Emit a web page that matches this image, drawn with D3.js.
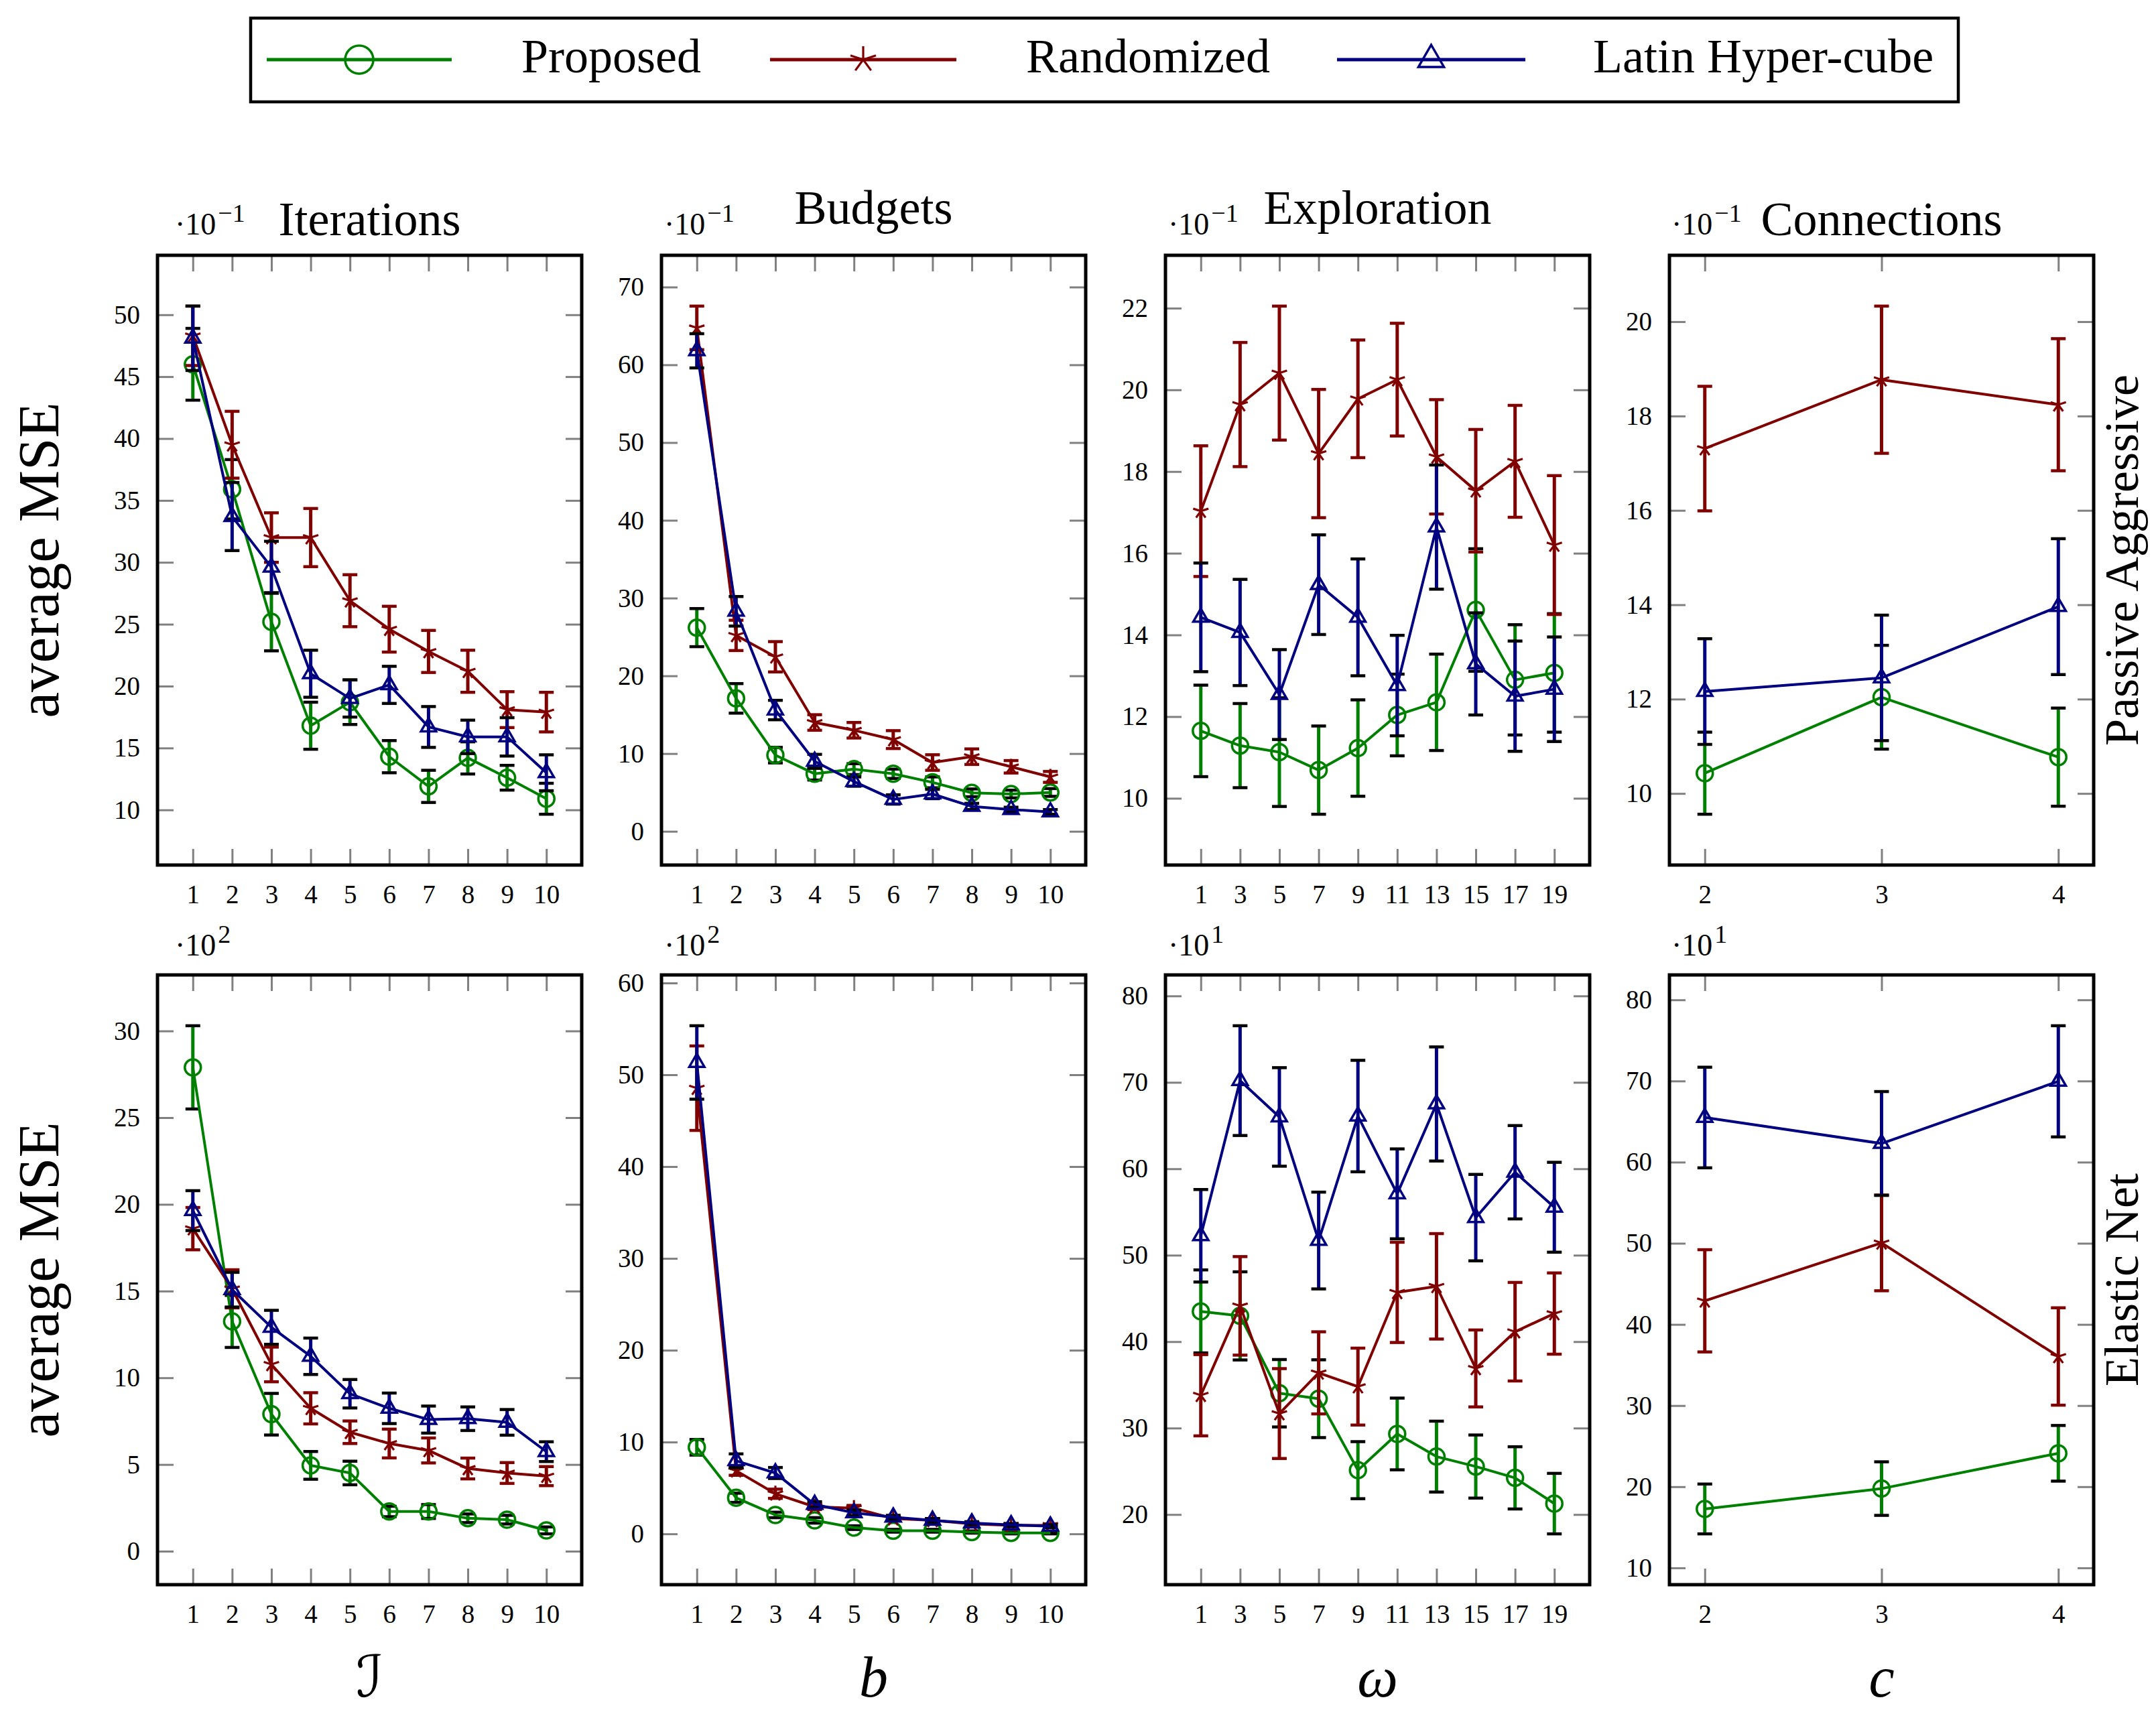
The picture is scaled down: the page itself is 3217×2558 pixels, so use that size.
<!DOCTYPE html>
<html>
<head>
<meta charset="utf-8">
<script src="https://cdn.jsdelivr.net/npm/d3@7"></script>
<style>
  body { margin: 0; background: #fff; }
  text { font-family: "Liberation Serif", "DejaVu Serif", serif; fill: #000; }
</style>
</head>
<body>
<div id="chart"></div>
<script>
// ---- data ----
var seriesNames = ["Proposed", "Randomized", "Latin Hyper-cube"];
var titles = ["Iterations", "Budgets", "Exploration", "Connections"];
var rowNames = ["Passive Aggressive", "Elastic Net"];
var paramSymbols = ["\u2110", "b", "\u03c9", "c"];
var rowExponents = [["\u22121", "\u22121", "\u22121", "\u22121"], ["2", "2", "1", "1"]];

var xIter = [1, 2, 3, 4, 5, 6, 7, 8, 9, 10];
var xBudget = [1, 2, 3, 4, 5, 6, 7, 8, 9, 10];
var xExplore = [1, 3, 5, 7, 9, 11, 13, 15, 17, 19];
var xConn = [2, 3, 4];

var yTicksPA = [[10, 15, 20, 25, 30, 35, 40, 45, 50], [0, 10, 20, 30, 40, 50, 60, 70],
                [10, 12, 14, 16, 18, 20, 22], [10, 12, 14, 16, 18, 20]];
var yTicksEN = [[0, 5, 10, 15, 20, 25, 30], [0, 10, 20, 30, 40, 50, 60],
                [20, 30, 40, 50, 60, 70, 80], [10, 20, 30, 40, 50, 60, 70, 80]];

// Passive Aggressive, rows: Proposed, Randomized, Latin Hyper-cube
var paIterMean = [[46.0, 35.9, 25.2, 16.8, 18.7, 14.3, 11.9, 14.2, 12.6, 10.9],
                  [48.3, 39.5, 32.0, 32.0, 26.9, 24.6, 22.8, 21.2, 18.1, 17.9],
                  [48.1, 33.7, 29.6, 21.0, 19.0, 20.1, 16.7, 15.9, 15.9, 13.0]];
var paIterErr = [[2.9, 2.4, 2.35, 1.9, 1.8, 1.3, 1.3, 1.3, 1.0, 1.25],
                 [2.4, 2.7, 2.0, 2.35, 2.1, 1.85, 1.7, 1.7, 1.45, 1.6],
                 [2.6, 2.75, 2.1, 1.9, 1.5, 1.5, 1.65, 1.35, 1.55, 1.45]];
var paBudgetMean = [[26.2, 17.1, 9.8, 7.4, 8.0, 7.4, 6.3, 4.95, 4.8, 5.0],
                    [64.75, 25.2, 22.45, 14.0, 13.0, 11.8, 8.85, 9.6, 8.3, 7.0],
                    [61.8, 28.3, 15.6, 9.0, 6.4, 4.1, 4.8, 3.2, 2.8, 2.5]];
var paBudgetErr = [[2.45, 1.9, 1.0, 0.8, 0.7, 0.6, 0.7, 0.5, 0.5, 0.5],
                   [2.8, 1.95, 1.95, 1.0, 1.0, 1.15, 1.0, 1.0, 0.8, 0.7],
                   [2.2, 1.9, 1.25, 0.9, 0.6, 0.6, 0.6, 0.4, 0.3, 0.3]];
var paExploreMean = [[11.65, 11.29, 11.13, 10.69, 11.23, 12.04, 12.35, 14.61, 12.9, 13.07],
                     [17.03, 19.64, 20.41, 18.44, 19.78, 20.25, 18.36, 17.53, 18.25, 16.2],
                     [14.43, 14.06, 12.54, 15.23, 14.43, 12.76, 16.64, 13.29, 12.5, 12.67]];
var paExploreErr = [[1.12, 1.03, 1.33, 1.08, 1.18, 1.0, 1.18, 1.5, 1.35, 1.45],
                    [1.6, 1.52, 1.64, 1.57, 1.44, 1.38, 1.4, 1.5, 1.37, 1.7],
                    [1.33, 1.3, 1.1, 1.22, 1.43, 1.23, 1.52, 1.25, 1.35, 1.28]];
var paConnMean = [[10.43, 12.04, 10.77], [17.31, 18.77, 18.24], [12.16, 12.45, 13.96]];
var paConnErr = [[0.87, 1.1, 1.04], [1.32, 1.56, 1.4], [1.12, 1.33, 1.44]];

// Elastic Net
var enIterMean = [[27.9, 13.25, 7.9, 4.95, 4.51, 2.29, 2.29, 1.9, 1.82, 1.2],
                  [18.6, 15.13, 10.77, 8.24, 6.86, 6.21, 5.81, 4.77, 4.51, 4.33],
                  [19.64, 15.08, 12.91, 11.24, 9.08, 8.24, 7.59, 7.64, 7.43, 5.74]];
var enIterErr = [[2.4, 1.5, 1.2, 0.8, 0.68, 0.3, 0.4, 0.25, 0.25, 0.2],
                 [1.22, 1.1, 1.0, 0.9, 0.65, 0.83, 0.72, 0.6, 0.6, 0.55],
                 [1.15, 1.0, 0.98, 1.05, 0.82, 0.88, 0.78, 0.68, 0.74, 0.57]];
var enBudgetMean = [[9.43, 3.93, 2.06, 1.47, 0.68, 0.34, 0.34, 0.2, 0.1, 0.1],
                    [48.54, 6.88, 4.37, 2.95, 2.8, 1.67, 1.47, 1.08, 0.93, 0.93],
                    [51.34, 7.96, 6.63, 3.2, 2.3, 1.82, 1.47, 1.18, 0.98, 0.84]];
var enBudgetErr = [[0.85, 0.5, 0.3, 0.3, 0.2, 0.15, 0.15, 0.12, 0.1, 0.1],
                   [4.6, 0.5, 0.5, 0.3, 0.3, 0.2, 0.2, 0.15, 0.15, 0.15],
                   [4.0, 0.75, 0.6, 0.3, 0.3, 0.2, 0.2, 0.15, 0.15, 0.15]];
var enExploreMean = [[43.5, 42.98, 34.03, 33.4, 25.13, 29.32, 26.7, 25.55, 24.24, 21.26],
                     [33.8, 44.14, 31.68, 36.39, 34.8, 45.7, 46.4, 36.9, 41.15, 43.25],
                     [52.25, 70.2, 66.0, 51.7, 66.1, 57.1, 67.5, 54.35, 59.6, 55.55]];
var enExploreErr = [[4.8, 5.1, 3.9, 4.5, 3.3, 4.15, 4.1, 3.65, 3.6, 3.5],
                    [4.7, 5.7, 5.2, 4.75, 4.45, 5.8, 6.1, 4.45, 5.7, 4.7],
                    [5.35, 6.35, 5.7, 5.6, 6.45, 5.2, 6.6, 5.0, 5.4, 5.2]];
var enConnMean = [[17.26, 19.77, 24.12], [42.91, 50.05, 36.05], [65.5, 62.3, 69.96]];
var enConnErr = [[3.07, 3.3, 3.43], [6.3, 5.9, 6.0], [6.2, 6.4, 6.85]];

// ---- layout / style ----
var W = 3217, H = 2558;
var colLeft = [235, 987, 1739, 2491], panelW = 633;
var rowTop = [381, 1455], panelH = 910;
var colors = ["#008000", "#800000", "#000080"];
var capColors = ["#000", "#800000", "#000"];
var markers = ["circle", "star", "triangle"];
var titleBase = [351, 334, 334, 351];
var scaleLabelDx = [26, 4, 4, 3];
var scaleLabelBase = [350, 1426];

var panels = [
  {row: 0, col: 0, x: xIter, mean: paIterMean, err: paIterErr, ticks: yTicksPA[0]},
  {row: 0, col: 1, x: xBudget, mean: paBudgetMean, err: paBudgetErr, ticks: yTicksPA[1]},
  {row: 0, col: 2, x: xExplore, mean: paExploreMean, err: paExploreErr, ticks: yTicksPA[2]},
  {row: 0, col: 3, x: xConn, mean: paConnMean, err: paConnErr, ticks: yTicksPA[3]},
  {row: 1, col: 0, x: xIter, mean: enIterMean, err: enIterErr, ticks: yTicksEN[0]},
  {row: 1, col: 1, x: xBudget, mean: enBudgetMean, err: enBudgetErr, ticks: yTicksEN[1]},
  {row: 1, col: 2, x: xExplore, mean: enExploreMean, err: enExploreErr, ticks: yTicksEN[2]},
  {row: 1, col: 3, x: xConn, mean: enConnMean, err: enConnErr, ticks: yTicksEN[3]}
];

var svg = d3.select("#chart").append("svg")
    .attr("width", W).attr("height", H)
    .style("background", "#fff");

function markerPath(type, r) {
  if (type === "triangle") {
    return "M0," + (-r) + "L" + (0.866 * r) + "," + (0.5 * r) + "L" + (-0.866 * r) + "," + (0.5 * r) + "Z";
  }
  // star: five spokes from the centre
  var p = "";
  for (var k = 0; k < 5; k++) {
    var a = (90 + k * 72) * Math.PI / 180;
    p += "M0,0L" + (r * Math.cos(a)).toFixed(2) + "," + (-r * Math.sin(a)).toFixed(2);
  }
  return p;
}

function drawMarker(sel, type, r, color) {
  if (type === "circle") {
    sel.append("circle").attr("r", r).attr("fill", "none")
       .attr("stroke", color).attr("stroke-width", 3.5);
  } else {
    sel.append("path").attr("d", markerPath(type, r))
       .attr("fill", "none").attr("stroke", color)
       .attr("stroke-width", type === "star" ? 3.2 : 3.5)
       .attr("stroke-linejoin", "miter");
  }
}

panels.forEach(function(p) {
  var left = colLeft[p.col], top = rowTop[p.row];
  var g = svg.append("g").attr("transform", "translate(" + left + "," + top + ")");

  // pgfplots-like enlarged limits: 10% of the data range on each side
  var xr = d3.extent(p.x), xpad = (xr[1] - xr[0]) * 0.1;
  var lo = d3.min(p.mean, function(s, i) { return d3.min(s, function(v, j) { return v - p.err[i][j]; }); });
  var hi = d3.max(p.mean, function(s, i) { return d3.max(s, function(v, j) { return v + p.err[i][j]; }); });
  var ypad = (hi - lo) * 0.1;

  var x = d3.scaleLinear().domain([xr[0] - xpad, xr[1] + xpad]).range([0, panelW]);
  var y = d3.scaleLinear().domain([lo - ypad, hi + ypad]).range([panelH, 0]);

  // axes (ticks inside on all four sides)
  var tickLen = 24;
  var axB = g.append("g").attr("transform", "translate(0," + panelH + ")")
      .call(d3.axisBottom(x).tickValues(p.x).tickSize(-tickLen).tickPadding(29).tickFormat(d3.format("d")));
  var axT = g.append("g")
      .call(d3.axisTop(x).tickValues(p.x).tickSize(-tickLen).tickFormat(""));
  var axL = g.append("g")
      .call(d3.axisLeft(y).tickValues(p.ticks).tickSize(-tickLen).tickPadding(26).tickFormat(d3.format("d")));
  var axR = g.append("g").attr("transform", "translate(" + panelW + ",0)")
      .call(d3.axisRight(y).tickValues(p.ticks).tickSize(-tickLen).tickFormat(""));
  [axB, axT, axL, axR].forEach(function(a) {
    a.select(".domain").remove();
    a.selectAll(".tick line").attr("stroke", "#808080").attr("stroke-width", 3);
    a.selectAll(".tick text").style("font-family", "'Liberation Serif', serif")
      .style("font-size", "39px").attr("fill", "#000");
  });

  // series
  p.mean.forEach(function(vals, si) {
    var pts = vals.map(function(v, j) { return {x: p.x[j], v: v, e: p.err[si][j]}; });
    var sg = g.append("g");

    var eb = sg.selectAll(".eb").data(pts).enter().append("g");
    eb.append("line")
      .attr("x1", function(d) { return x(d.x); }).attr("x2", function(d) { return x(d.x); })
      .attr("y1", function(d) { return y(d.v - d.e); }).attr("y2", function(d) { return y(d.v + d.e); })
      .attr("stroke", colors[si]).attr("stroke-width", 5);
    [-1, 1].forEach(function(sgn) {
      eb.append("line")
        .attr("x1", function(d) { return x(d.x) - 11; }).attr("x2", function(d) { return x(d.x) + 11; })
        .attr("y1", function(d) { return y(d.v + sgn * d.e); }).attr("y2", function(d) { return y(d.v + sgn * d.e); })
        .attr("stroke", capColors[si]).attr("stroke-width", 4.5);
    });

    sg.append("path").datum(pts)
      .attr("fill", "none").attr("stroke", colors[si]).attr("stroke-width", 4)
      .attr("stroke-linejoin", "round")
      .attr("d", d3.line().x(function(d) { return x(d.x); }).y(function(d) { return y(d.v); }));

    sg.selectAll(".mk").data(pts).enter().append("g")
      .attr("transform", function(d) { return "translate(" + x(d.x) + "," + y(d.v) + ")"; })
      .each(function() { drawMarker(d3.select(this), markers[si], si === 2 ? 13 : 12, colors[si]); });
  });

  // frame
  g.append("rect").attr("width", panelW).attr("height", panelH)
    .attr("fill", "none").attr("stroke", "#000").attr("stroke-width", 5);

  // scale label  ·10^k
  var sl = svg.append("text")
    .attr("x", left + scaleLabelDx[p.col]).attr("y", scaleLabelBase[p.row])
    .style("font-size", "46px");
  sl.append("tspan").text("\u00b710");
  sl.append("tspan").attr("dx", 3).attr("dy", -19).style("font-size", "38px").text(rowExponents[p.row][p.col]);

  // column title
  if (p.row === 0) {
    svg.append("text").attr("x", left + panelW / 2).attr("y", titleBase[p.col])
      .attr("text-anchor", "middle").style("font-size", "72px").text(titles[p.col]);
  }
  // parameter symbol under bottom row
  if (p.row === 1) {
    svg.append("text").attr("x", left + panelW / 2).attr("y", 2532)
      .attr("text-anchor", "middle")
      .style("font-size", "86px")
      .style("font-style", p.col === 0 ? "normal" : "italic")
      .style("font-family", p.col === 0 ? "'DejaVu Serif', 'DejaVu Sans', serif" : "'Liberation Serif', serif")
      .text(paramSymbols[p.col]);
  }
});

// row labels
rowTop.forEach(function(t, r) {
  var cy = t + panelH / 2;
  svg.append("text").attr("transform", "translate(87," + cy + ") rotate(-90)")
    .attr("text-anchor", "middle").style("font-size", "87px").text("average MSE");
  svg.append("text").attr("transform", "translate(3190," + cy + ") rotate(-90)")
    .attr("text-anchor", "middle").style("font-size", "72px").text(rowNames[r]);
});

// legend
var legend = svg.append("g");
legend.append("rect").attr("x", 374).attr("y", 27).attr("width", 2548).attr("height", 125)
  .attr("fill", "#fff").attr("stroke", "#000").attr("stroke-width", 4.5);
var legLine = [[398, 674], [1149, 1427], [1995, 2276]];
var legText = [778, 1531, 2377];
seriesNames.forEach(function(name, i) {
  legend.append("line").attr("x1", legLine[i][0]).attr("x2", legLine[i][1])
    .attr("y1", 89).attr("y2", 89).attr("stroke", colors[i]).attr("stroke-width", 5);
  var mg = legend.append("g").attr("transform", "translate(" + (legLine[i][0] + legLine[i][1]) / 2 + ",89)");
  drawMarker(mg, markers[i], i === 0 ? 21 : (i === 1 ? 20 : 22), colors[i]);
  legend.append("text").attr("x", legText[i]).attr("y", 108)
    .style("font-size", "72px").text(name);
});
</script>
</body>
</html>
